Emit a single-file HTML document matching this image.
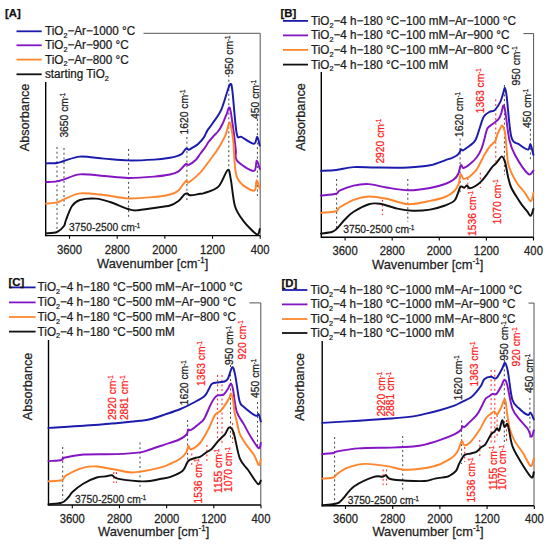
<!DOCTYPE html><html><head><meta charset="utf-8"><style>html,body{margin:0;padding:0;background:#fff;}svg{display:block;}</style></head><body>
<svg width="550" height="547" viewBox="0 0 550 547" font-family='"Liberation Sans", sans-serif'>
<style>text{stroke-width:0.25px;}</style>
<rect width="550" height="547" fill="#fff"/>
<line x1="143.5" y1="33.3" x2="260.2" y2="33.3" stroke="#555" stroke-width="1.0"/>
<line x1="260.2" y1="33.3" x2="260.2" y2="235.6" stroke="#555" stroke-width="1.0"/>
<line x1="45.7" y1="82" x2="45.7" y2="236.2" stroke="#000" stroke-width="1.4"/>
<line x1="45.7" y1="235.6" x2="260.2" y2="235.6" stroke="#000" stroke-width="1.4"/>
<line x1="69.5" y1="235.6" x2="69.5" y2="238.79999999999998" stroke="#000" stroke-width="1.1"/>
<text transform="translate(69.5,254.0) scale(0.9259,1)" font-size="12.20" fill="#222" stroke="#222" text-anchor="middle">3600</text>
<line x1="117.17500000000001" y1="235.6" x2="117.17500000000001" y2="238.79999999999998" stroke="#000" stroke-width="1.1"/>
<text transform="translate(117.2,254.0) scale(0.9259,1)" font-size="12.20" fill="#222" stroke="#222" text-anchor="middle">2800</text>
<line x1="164.85" y1="235.6" x2="164.85" y2="238.79999999999998" stroke="#000" stroke-width="1.1"/>
<text transform="translate(164.8,254.0) scale(0.9259,1)" font-size="12.20" fill="#222" stroke="#222" text-anchor="middle">2000</text>
<line x1="212.52499999999998" y1="235.6" x2="212.52499999999998" y2="238.79999999999998" stroke="#000" stroke-width="1.1"/>
<text transform="translate(212.5,254.0) scale(0.9259,1)" font-size="12.20" fill="#222" stroke="#222" text-anchor="middle">1200</text>
<line x1="260.2" y1="235.6" x2="260.2" y2="238.79999999999998" stroke="#000" stroke-width="1.1"/>
<text transform="translate(260.2,254.0) scale(0.9259,1)" font-size="12.20" fill="#222" stroke="#222" text-anchor="middle">400</text>
<text transform="translate(97.0,267.5) scale(0.9524,1)" font-size="13.55" fill="#222" stroke="#222">Wavenumber [cm<tspan font-size="0.62em" dy="-4.8">-1</tspan><tspan dy="4.8">]</tspan></text>
<text transform="translate(28.8,117.5) rotate(-90) scale(0.9524,1)" font-size="13.33" fill="#222" stroke="#222" text-anchor="middle">Absorbance</text>
<line x1="57" y1="147" x2="57" y2="230" stroke="#444" stroke-width="1.0" stroke-dasharray="2,2.7"/>
<line x1="64" y1="148" x2="64" y2="206" stroke="#444" stroke-width="1.0" stroke-dasharray="2,2.7"/>
<line x1="128.6" y1="149" x2="128.6" y2="219" stroke="#444" stroke-width="1.0" stroke-dasharray="2,2.7"/>
<line x1="186.9" y1="137" x2="186.9" y2="202" stroke="#444" stroke-width="1.0" stroke-dasharray="2,2.7"/>
<line x1="228.8" y1="75" x2="228.8" y2="169" stroke="#444" stroke-width="1.0" stroke-dasharray="2,2.7"/>
<line x1="257.4" y1="119" x2="257.4" y2="196" stroke="#444" stroke-width="1.0" stroke-dasharray="2,2.7"/>
<path d="M46.0,163.4 C47.8,163.3 54.1,163.4 57.0,163.0 C59.9,162.6 60.3,162.0 64.0,161.0 C67.7,160.0 73.6,157.0 80.0,156.6 C86.4,156.2 96.3,158.0 104.0,158.6 C111.7,159.2 120.0,160.2 128.0,160.4 C136.0,160.6 147.3,160.0 154.0,159.6 C160.7,159.2 166.1,158.4 170.0,157.8 C173.9,157.2 176.6,156.2 178.5,155.6 C180.4,155.0 180.8,154.9 182.0,153.8 C183.2,152.7 185.0,149.3 186.1,148.6 C187.2,147.9 187.7,149.9 188.8,149.7 C189.9,149.5 191.5,148.3 193.0,147.4 C194.5,146.5 196.7,145.4 198.4,143.8 C200.1,142.2 202.4,139.6 203.9,137.4 C205.4,135.2 206.1,132.4 207.6,130.1 C209.1,127.8 210.8,126.1 213.0,122.8 C215.2,119.5 218.9,115.0 221.3,109.6 C223.7,104.2 226.6,93.1 228.1,89.0 C229.6,84.9 230.0,83.7 230.7,84.0 C231.4,84.3 231.4,82.9 232.4,90.8 C233.4,98.7 235.2,126.1 236.7,133.5 C238.2,140.9 239.1,135.4 241.8,137.0 C244.5,138.6 251.3,143.8 253.8,143.8 C256.3,143.8 256.3,136.7 257.2,137.0 C258.1,137.3 259.3,144.1 259.7,145.5" fill="none" stroke="#1c1cac" stroke-width="1.95" stroke-linejoin="round" stroke-linecap="round"/>
<path d="M46.0,182.0 C47.8,181.9 54.1,181.8 57.0,181.4 C59.9,181.0 60.3,180.5 64.0,179.4 C67.7,178.3 73.6,174.9 80.0,174.4 C86.4,173.9 96.3,175.4 104.0,176.0 C111.7,176.6 120.0,177.9 128.0,178.0 C136.0,178.1 147.3,177.2 154.0,176.6 C160.7,176.0 166.1,175.3 170.0,174.5 C173.9,173.7 176.0,173.1 178.5,171.4 C181.0,169.7 184.2,165.1 185.8,164.1 C187.4,163.1 187.1,165.6 188.7,164.9 C190.3,164.2 193.8,161.8 195.7,160.0 C197.6,158.2 198.7,156.0 200.3,153.8 C201.9,151.6 204.4,148.4 205.7,146.5 C207.0,144.6 207.2,143.7 208.5,142.0 C209.8,140.3 212.5,137.3 214.0,135.6 C215.5,133.9 216.7,133.2 218.0,131.5 C219.3,129.8 220.7,127.7 222.0,125.0 C223.3,122.3 225.2,117.4 226.4,114.7 C227.6,112.0 228.7,105.7 229.8,107.9 C230.9,110.1 232.2,121.7 233.2,128.4 C234.2,135.1 235.2,144.8 235.8,150.0 C236.4,155.2 234.2,157.3 237.0,160.7 C239.8,164.1 250.4,171.0 253.6,171.0 C256.8,171.0 255.7,161.0 256.7,160.7 C257.7,160.4 259.3,167.7 259.8,169.0" fill="none" stroke="#8414c4" stroke-width="1.95" stroke-linejoin="round" stroke-linecap="round"/>
<path d="M46.0,203.6 C47.8,203.4 54.1,203.1 57.0,202.4 C59.9,201.7 60.3,200.8 64.0,199.4 C67.7,198.0 73.6,194.1 80.0,193.4 C86.4,192.7 96.3,194.2 104.0,195.0 C111.7,195.8 120.0,198.1 128.0,198.4 C136.0,198.7 147.3,197.6 154.0,197.0 C160.7,196.4 166.1,195.6 170.0,194.5 C173.9,193.4 176.0,192.6 178.5,190.4 C181.0,188.2 184.2,182.2 185.8,180.9 C187.4,179.6 186.4,183.7 188.7,182.4 C191.0,181.1 197.6,175.2 200.0,172.9 C202.4,170.6 202.4,170.1 204.0,168.0 C205.6,165.9 207.8,163.0 210.0,160.0 C212.2,157.0 215.4,153.0 217.9,149.0 C220.4,145.0 223.6,139.5 225.5,135.2 C227.4,130.9 228.6,121.6 229.8,122.4 C231.0,123.2 232.0,131.5 233.2,140.3 C234.4,149.1 233.7,169.2 237.0,177.3 C240.3,185.4 250.4,190.3 253.6,190.8 C256.8,191.3 255.7,180.7 256.7,180.4 C257.7,180.1 259.3,187.4 259.8,188.7" fill="none" stroke="#ff862e" stroke-width="1.95" stroke-linejoin="round" stroke-linecap="round"/>
<path d="M46.0,233.4 C47.8,233.2 54.1,233.2 57.0,232.0 C59.9,230.8 62.6,227.9 64.0,226.0 C65.4,224.1 64.7,223.2 66.0,220.0 C67.3,216.8 69.8,209.2 72.0,206.0 C74.2,202.8 76.2,201.2 80.0,200.0 C83.8,198.8 91.2,198.3 96.0,198.6 C100.8,198.9 104.9,200.3 110.0,202.0 C115.1,203.7 123.8,207.7 128.0,209.0 C132.2,210.3 131.8,210.6 136.0,210.4 C140.2,210.2 148.6,208.8 154.0,208.0 C159.4,207.2 166.1,206.6 170.0,205.5 C173.9,204.4 176.2,202.7 178.5,201.0 C180.8,199.3 182.9,195.8 184.3,194.6 C185.7,193.4 186.4,193.3 187.3,193.4 C188.2,193.5 188.2,195.2 190.2,195.3 C192.2,195.4 197.8,194.1 200.0,193.8 C202.2,193.5 201.1,194.4 204.0,193.2 C206.9,192.0 214.6,190.3 218.4,186.6 C222.2,182.9 225.7,171.2 227.7,170.0 C229.7,168.8 229.6,173.6 230.8,179.4 C232.0,185.2 233.0,199.7 235.0,206.3 C237.0,212.9 239.8,216.3 243.3,220.8 C246.8,225.3 254.1,233.0 256.7,234.3 C259.3,235.6 259.3,229.8 259.8,229.0" fill="none" stroke="#111111" stroke-width="1.95" stroke-linejoin="round" stroke-linecap="round"/>
<text transform="translate(69,231) scale(0.9259,1)" font-size="11.12" fill="#222" stroke="#222">3750-2500 <tspan>cm</tspan><tspan font-size="0.58em" dy="-0.45em">-1</tspan></text>
<text transform="translate(67.8,137.6) rotate(-90) scale(0.9259,1)" font-size="11.12" fill="#222" stroke="#222">3650 <tspan>cm</tspan><tspan font-size="0.58em" dy="-0.45em">-1</tspan></text>
<text transform="translate(187.7,134.4) rotate(-90) scale(0.9259,1)" font-size="11.12" fill="#222" stroke="#222">1620 <tspan>cm</tspan><tspan font-size="0.58em" dy="-0.45em">-1</tspan></text>
<text transform="translate(232.6,74.7) rotate(-90) scale(0.9259,1)" font-size="11.12" fill="#222" stroke="#222">950 <tspan>cm</tspan><tspan font-size="0.58em" dy="-0.45em">-1</tspan></text>
<text transform="translate(258.6,118.9) rotate(-90) scale(0.9259,1)" font-size="11.12" fill="#222" stroke="#222">450 <tspan>cm</tspan><tspan font-size="0.58em" dy="-0.45em">-1</tspan></text>
<line x1="16.5" y1="31.3" x2="41.7" y2="31.3" stroke="#1c1cac" stroke-width="1.8"/>
<text transform="translate(45.0,35.3) scale(0.9709,1)" font-size="12.05" fill="#1a1a1a" stroke="#1a1a1a">TiO<tspan font-size="0.62em" dy="2.6">2</tspan><tspan dy="-2.6">−Ar−1000 °C</tspan></text>
<line x1="16.5" y1="45.3" x2="41.7" y2="45.3" stroke="#8414c4" stroke-width="1.8"/>
<text transform="translate(45.0,49.3) scale(0.9709,1)" font-size="12.05" fill="#1a1a1a" stroke="#1a1a1a">TiO<tspan font-size="0.62em" dy="2.6">2</tspan><tspan dy="-2.6">−Ar−900 °C</tspan></text>
<line x1="16.5" y1="59.6" x2="41.7" y2="59.6" stroke="#ff862e" stroke-width="1.8"/>
<text transform="translate(45.0,63.6) scale(0.9709,1)" font-size="12.05" fill="#1a1a1a" stroke="#1a1a1a">TiO<tspan font-size="0.62em" dy="2.6">2</tspan><tspan dy="-2.6">−Ar−800 °C</tspan></text>
<line x1="16.5" y1="74.3" x2="41.7" y2="74.3" stroke="#111111" stroke-width="1.8"/>
<text transform="translate(45.0,78.3) scale(0.9709,1)" font-size="12.05" fill="#1a1a1a" stroke="#1a1a1a">starting TiO<tspan font-size="0.62em" dy="2.6">2</tspan><tspan dy="-2.6"></tspan></text>
<text x="5" y="17.0" font-size="11.4" font-weight="bold" fill="#111" stroke="#111">[A]</text>
<line x1="523.5" y1="33.6" x2="533.6" y2="33.6" stroke="#555" stroke-width="1.0"/>
<line x1="533.6" y1="33.6" x2="533.6" y2="237.3" stroke="#555" stroke-width="1.0"/>
<line x1="321.3" y1="72" x2="321.3" y2="237.9" stroke="#000" stroke-width="1.4"/>
<line x1="321.3" y1="237.3" x2="533.6" y2="237.3" stroke="#000" stroke-width="1.4"/>
<line x1="345.1" y1="237.3" x2="345.1" y2="240.5" stroke="#000" stroke-width="1.1"/>
<text transform="translate(345.1,255.0) scale(0.9259,1)" font-size="12.20" fill="#222" stroke="#222" text-anchor="middle">3600</text>
<line x1="392.20000000000005" y1="237.3" x2="392.20000000000005" y2="240.5" stroke="#000" stroke-width="1.1"/>
<text transform="translate(392.2,255.0) scale(0.9259,1)" font-size="12.20" fill="#222" stroke="#222" text-anchor="middle">2800</text>
<line x1="439.3" y1="237.3" x2="439.3" y2="240.5" stroke="#000" stroke-width="1.1"/>
<text transform="translate(439.3,255.0) scale(0.9259,1)" font-size="12.20" fill="#222" stroke="#222" text-anchor="middle">2000</text>
<line x1="486.4" y1="237.3" x2="486.4" y2="240.5" stroke="#000" stroke-width="1.1"/>
<text transform="translate(486.4,255.0) scale(0.9259,1)" font-size="12.20" fill="#222" stroke="#222" text-anchor="middle">1200</text>
<line x1="533.5" y1="237.3" x2="533.5" y2="240.5" stroke="#000" stroke-width="1.1"/>
<text transform="translate(533.5,255.0) scale(0.9259,1)" font-size="12.20" fill="#222" stroke="#222" text-anchor="middle">400</text>
<text transform="translate(372.0,268.6) scale(0.9524,1)" font-size="13.55" fill="#222" stroke="#222">Wavenumber [cm<tspan font-size="0.62em" dy="-4.8">-1</tspan><tspan dy="4.8">]</tspan></text>
<text transform="translate(305.0,117.0) rotate(-90) scale(0.9524,1)" font-size="13.33" fill="#222" stroke="#222" text-anchor="middle">Absorbance</text>
<line x1="336.6" y1="179" x2="336.6" y2="230.4" stroke="#444" stroke-width="1.0" stroke-dasharray="2,2.7"/>
<line x1="407.8" y1="179" x2="407.8" y2="222" stroke="#444" stroke-width="1.0" stroke-dasharray="2,2.7"/>
<line x1="382.4" y1="199.8" x2="382.4" y2="215" stroke="#ff2020" stroke-width="1.0" stroke-dasharray="2,2.7"/>
<line x1="460.1" y1="138.6" x2="460.1" y2="194.6" stroke="#444" stroke-width="1.0" stroke-dasharray="2,2.7"/>
<line x1="467.8" y1="178" x2="467.8" y2="190.2" stroke="#ff2020" stroke-width="1.0" stroke-dasharray="2,2.7"/>
<line x1="480.3" y1="172.7" x2="480.3" y2="188" stroke="#ff2020" stroke-width="1.0" stroke-dasharray="2,2.7"/>
<line x1="495.8" y1="99.3" x2="495.8" y2="161.7" stroke="#ff2020" stroke-width="1.0" stroke-dasharray="2,2.7"/>
<line x1="504.4" y1="85" x2="504.4" y2="175" stroke="#444" stroke-width="1.0" stroke-dasharray="2,2.7"/>
<line x1="530.4" y1="129" x2="530.4" y2="160.6" stroke="#444" stroke-width="1.0" stroke-dasharray="2,2.7"/>
<path d="M321.0,170.8 C323.4,170.7 331.0,170.6 336.2,170.0 C341.4,169.4 347.3,167.5 353.6,167.1 C359.9,166.7 366.8,167.4 375.5,167.5 C384.2,167.6 399.5,167.9 408.2,167.5 C416.9,167.1 424.1,166.5 430.0,165.3 C435.9,164.1 441.5,161.5 445.0,160.3 C448.5,159.1 449.7,158.9 451.6,158.1 C453.5,157.3 455.8,156.3 457.1,155.3 C458.4,154.3 459.2,153.1 459.8,152.1 C460.4,151.1 460.4,149.6 460.9,149.3 C461.4,149.0 462.1,150.7 463.1,150.4 C464.1,150.1 465.8,148.5 466.9,147.7 C468.0,146.9 468.6,146.7 470.0,145.5 C471.4,144.3 473.9,143.0 475.5,140.0 C477.1,137.0 478.9,130.3 480.2,126.5 C481.5,122.7 482.4,118.8 483.9,116.5 C485.4,114.2 487.7,112.9 489.4,111.9 C491.1,110.9 493.1,111.7 494.8,110.1 C496.5,108.5 499.0,104.5 500.3,101.9 C501.6,99.3 502.4,95.8 503.1,93.6 C503.8,91.4 504.3,87.5 504.9,88.0 C505.5,88.5 505.7,88.8 506.7,96.6 C507.7,104.4 509.4,129.2 511.3,136.8 C513.2,144.4 516.0,142.1 518.6,144.1 C521.2,146.1 525.9,149.5 527.8,149.6 C529.7,149.7 529.6,143.6 530.5,144.5 C531.4,145.4 532.9,153.3 533.4,155.0" fill="none" stroke="#1c1cac" stroke-width="1.95" stroke-linejoin="round" stroke-linecap="round"/>
<path d="M321.0,195.5 C323.4,195.2 333.2,194.5 336.2,193.7 C339.2,192.9 336.7,192.0 339.5,190.7 C342.3,189.4 348.9,186.7 353.6,185.6 C358.3,184.5 363.7,183.8 368.9,184.1 C374.1,184.4 380.1,186.5 386.4,187.5 C392.7,188.5 401.2,190.2 408.2,190.3 C415.2,190.4 424.1,189.0 430.0,188.0 C435.9,187.0 441.2,185.4 445.0,184.0 C448.8,182.6 451.7,181.1 453.8,179.5 C455.9,177.9 457.2,176.1 458.2,174.0 C459.2,171.9 459.8,167.7 460.3,166.3 C460.8,164.9 460.9,164.9 461.4,165.2 C461.9,165.5 462.2,168.2 463.6,168.0 C465.0,167.8 467.9,165.8 470.0,164.1 C472.1,162.4 474.8,159.8 476.6,157.5 C478.4,155.2 479.8,152.7 481.0,149.9 C482.2,147.1 483.2,143.5 484.2,140.0 C485.2,136.5 486.1,130.9 487.5,128.3 C488.9,125.7 491.2,125.3 493.0,123.8 C494.8,122.3 497.2,120.8 498.5,119.2 C499.8,117.6 500.4,115.9 501.2,113.7 C502.0,111.5 502.7,105.9 503.3,105.5 C503.9,105.1 504.2,105.5 505.2,111.0 C506.2,116.5 507.8,133.0 509.4,140.0 C511.0,147.0 512.0,149.6 515.0,155.0 C518.0,160.4 525.1,171.3 528.0,173.8 C530.9,176.3 532.5,171.0 533.4,170.5" fill="none" stroke="#8414c4" stroke-width="1.95" stroke-linejoin="round" stroke-linecap="round"/>
<path d="M321.0,212.9 C323.4,212.6 333.2,212.1 336.2,211.2 C339.2,210.3 336.7,209.3 339.5,207.5 C342.3,205.7 348.9,201.6 353.6,199.8 C358.3,198.0 363.7,196.7 368.9,196.5 C374.1,196.3 380.1,197.5 386.4,198.7 C392.7,199.9 401.2,203.8 408.2,204.2 C415.2,204.6 424.1,202.1 430.0,200.9 C435.9,199.7 441.2,198.5 445.0,197.0 C448.8,195.5 451.6,193.6 453.8,191.5 C456.0,189.4 457.7,186.4 458.7,183.8 C459.7,181.2 459.9,176.5 460.3,175.1 C460.7,173.7 460.9,174.5 461.4,175.1 C461.9,175.7 462.7,178.5 463.6,178.9 C464.5,179.3 465.9,178.2 466.9,177.8 C467.9,177.4 468.4,177.5 470.0,176.2 C471.6,174.9 474.3,172.9 476.6,169.6 C478.9,166.3 482.1,159.0 484.2,155.3 C486.3,151.6 487.9,148.9 489.7,146.6 C491.5,144.3 493.9,143.1 495.2,141.1 C496.5,139.1 496.8,135.8 497.6,133.8 C498.4,131.8 499.6,129.6 500.3,128.3 C501.0,127.0 501.4,125.0 502.1,125.6 C502.8,126.2 504.2,128.1 504.9,132.0 C505.6,135.9 506.2,144.9 506.7,150.0 C507.2,155.1 507.3,159.7 508.2,163.7 C509.1,167.7 510.8,171.4 512.3,174.7 C513.8,178.0 515.8,181.4 517.8,184.2 C519.8,187.0 522.6,189.7 524.7,192.5 C526.8,195.3 529.4,201.3 530.8,201.4 C532.2,201.5 533.0,194.3 533.4,193.0" fill="none" stroke="#ff862e" stroke-width="1.95" stroke-linejoin="round" stroke-linecap="round"/>
<path d="M321.0,233.6 C322.7,233.3 329.4,232.7 331.8,232.0 C334.2,231.3 334.1,231.3 336.2,229.3 C338.3,227.3 342.1,222.3 344.9,219.5 C347.7,216.7 349.8,214.2 353.6,211.8 C357.4,209.4 364.7,205.5 368.9,204.2 C373.1,202.9 375.3,203.1 379.8,203.8 C384.3,204.5 392.1,207.5 397.3,208.6 C402.5,209.7 407.4,210.5 412.6,210.7 C417.8,210.9 424.8,210.4 430.0,209.6 C435.2,208.8 441.0,207.0 445.0,205.5 C449.0,204.0 452.5,202.9 454.9,200.0 C457.3,197.1 458.8,189.1 460.3,187.1 C461.8,185.1 463.1,188.0 464.2,187.7 C465.3,187.4 466.0,185.4 466.9,185.5 C467.8,185.6 468.3,188.1 469.7,188.2 C471.1,188.3 473.7,187.1 475.5,186.0 C477.3,184.9 479.3,183.3 481.0,181.6 C482.7,179.9 484.7,177.4 486.4,175.1 C488.1,172.8 490.3,169.3 491.9,167.4 C493.5,165.5 495.1,164.4 496.3,163.0 C497.5,161.6 498.7,159.7 499.6,158.6 C500.5,157.5 501.1,156.3 501.8,156.4 C502.5,156.5 503.4,158.0 504.0,159.2 C504.6,160.4 504.8,160.8 505.5,163.7 C506.2,166.6 507.3,173.7 508.2,177.4 C509.1,181.1 509.7,183.9 511.0,187.0 C512.3,190.1 514.7,193.8 516.4,196.6 C518.1,199.4 520.1,202.4 521.9,204.8 C523.7,207.2 526.0,209.8 527.4,211.6 C528.8,213.4 529.8,216.2 530.8,215.8 C531.8,215.4 533.0,210.0 533.4,208.9" fill="none" stroke="#111111" stroke-width="1.95" stroke-linejoin="round" stroke-linecap="round"/>
<text transform="translate(343.2,233) scale(0.9259,1)" font-size="11.12" fill="#222" stroke="#222">3750-2500 <tspan>cm</tspan><tspan font-size="0.58em" dy="-0.45em">-1</tspan></text>
<text transform="translate(383.8,163.6) rotate(-90) scale(0.9259,1)" font-size="11.12" fill="#ff2020" stroke="#ff2020">2920 <tspan>cm</tspan><tspan font-size="0.58em" dy="-0.45em">-1</tspan></text>
<text transform="translate(462.5,136.9) rotate(-90) scale(0.9259,1)" font-size="11.12" fill="#222" stroke="#222">1620 <tspan>cm</tspan><tspan font-size="0.58em" dy="-0.45em">-1</tspan></text>
<text transform="translate(483.5,113.2) rotate(-90) scale(0.9259,1)" font-size="11.12" fill="#ff2020" stroke="#ff2020">1363 <tspan>cm</tspan><tspan font-size="0.58em" dy="-0.45em">-1</tspan></text>
<text transform="translate(476.0,235.9) rotate(-90) scale(0.9259,1)" font-size="11.12" fill="#ff2020" stroke="#ff2020">1536 <tspan>cm</tspan><tspan font-size="0.58em" dy="-0.45em">-1</tspan></text>
<text transform="translate(500.5,224.2) rotate(-90) scale(0.9259,1)" font-size="11.12" fill="#ff2020" stroke="#ff2020">1070 <tspan>cm</tspan><tspan font-size="0.58em" dy="-0.45em">-1</tspan></text>
<text transform="translate(531.0,127.9) rotate(-90) scale(0.9259,1)" font-size="11.12" fill="#222" stroke="#222">450 <tspan>cm</tspan><tspan font-size="0.58em" dy="-0.45em">-1</tspan></text>
<line x1="283" y1="20.9" x2="308" y2="20.9" stroke="#1c1cac" stroke-width="1.8"/>
<text transform="translate(311.0,24.9) scale(0.9709,1)" font-size="12.05" fill="#1a1a1a" stroke="#1a1a1a">TiO<tspan font-size="0.62em" dy="2.6">2</tspan><tspan dy="-2.6">−4 h−180 °C−100 mM−Ar−1000 °C</tspan></text>
<line x1="283" y1="35.4" x2="308" y2="35.4" stroke="#8414c4" stroke-width="1.8"/>
<text transform="translate(311.0,39.4) scale(0.9709,1)" font-size="12.05" fill="#1a1a1a" stroke="#1a1a1a">TiO<tspan font-size="0.62em" dy="2.6">2</tspan><tspan dy="-2.6">−4 h−180 °C−100 mM−Ar−900 °C</tspan></text>
<line x1="283" y1="49.9" x2="308" y2="49.9" stroke="#ff862e" stroke-width="1.8"/>
<text transform="translate(311.0,53.9) scale(0.9709,1)" font-size="12.05" fill="#1a1a1a" stroke="#1a1a1a">TiO<tspan font-size="0.62em" dy="2.6">2</tspan><tspan dy="-2.6">−4 h−180 °C−100 mM−Ar−800 °C</tspan></text>
<line x1="283" y1="64.6" x2="308" y2="64.6" stroke="#111111" stroke-width="1.8"/>
<text transform="translate(311.0,68.6) scale(0.9709,1)" font-size="12.05" fill="#1a1a1a" stroke="#1a1a1a">TiO<tspan font-size="0.62em" dy="2.6">2</tspan><tspan dy="-2.6">−4 h−180 °C−100 mM</tspan></text>
<text x="280.4" y="17.2" font-size="11.4" font-weight="bold" fill="#111" stroke="#111">[B]</text>
<text transform="translate(520.0,85.4) rotate(-90) scale(0.9259,1)" font-size="11.12" fill="#222" stroke="#222">950 <tspan>cm</tspan><tspan font-size="0.58em" dy="-0.45em">-1</tspan></text>
<line x1="249.5" y1="302.9" x2="260.8" y2="302.9" stroke="#555" stroke-width="1.0"/>
<line x1="260.8" y1="302.9" x2="260.8" y2="505.0" stroke="#555" stroke-width="1.0"/>
<line x1="48.5" y1="340" x2="48.5" y2="505.6" stroke="#000" stroke-width="1.4"/>
<line x1="48.5" y1="505.0" x2="260.8" y2="505.0" stroke="#000" stroke-width="1.4"/>
<line x1="72.30000000000001" y1="505.0" x2="72.30000000000001" y2="508.2" stroke="#000" stroke-width="1.1"/>
<text transform="translate(72.3,522.5) scale(0.9259,1)" font-size="12.20" fill="#222" stroke="#222" text-anchor="middle">3600</text>
<line x1="119.47500000000002" y1="505.0" x2="119.47500000000002" y2="508.2" stroke="#000" stroke-width="1.1"/>
<text transform="translate(119.5,522.5) scale(0.9259,1)" font-size="12.20" fill="#222" stroke="#222" text-anchor="middle">2800</text>
<line x1="166.65" y1="505.0" x2="166.65" y2="508.2" stroke="#000" stroke-width="1.1"/>
<text transform="translate(166.7,522.5) scale(0.9259,1)" font-size="12.20" fill="#222" stroke="#222" text-anchor="middle">2000</text>
<line x1="213.825" y1="505.0" x2="213.825" y2="508.2" stroke="#000" stroke-width="1.1"/>
<text transform="translate(213.8,522.5) scale(0.9259,1)" font-size="12.20" fill="#222" stroke="#222" text-anchor="middle">1200</text>
<line x1="261.0" y1="505.0" x2="261.0" y2="508.2" stroke="#000" stroke-width="1.1"/>
<text transform="translate(261.0,522.5) scale(0.9259,1)" font-size="12.20" fill="#222" stroke="#222" text-anchor="middle">400</text>
<text transform="translate(98.0,536.0) scale(0.9524,1)" font-size="13.55" fill="#222" stroke="#222">Wavenumber [cm<tspan font-size="0.62em" dy="-4.8">-1</tspan><tspan dy="4.8">]</tspan></text>
<text transform="translate(31.5,386.5) rotate(-90) scale(0.9524,1)" font-size="13.33" fill="#222" stroke="#222" text-anchor="middle">Absorbance</text>
<line x1="62.7" y1="447" x2="62.7" y2="499.5" stroke="#444" stroke-width="1.0" stroke-dasharray="2,2.7"/>
<line x1="140" y1="442.5" x2="140" y2="489" stroke="#444" stroke-width="1.0" stroke-dasharray="2,2.7"/>
<line x1="113.8" y1="472" x2="113.8" y2="483" stroke="#ff2020" stroke-width="1.0" stroke-dasharray="2,2.7"/>
<line x1="116.4" y1="472" x2="116.4" y2="483" stroke="#ff2020" stroke-width="1.0" stroke-dasharray="2,2.7"/>
<line x1="187.6" y1="420" x2="187.6" y2="462" stroke="#444" stroke-width="1.0" stroke-dasharray="2,2.7"/>
<line x1="191.8" y1="453.5" x2="191.8" y2="466" stroke="#ff2020" stroke-width="1.0" stroke-dasharray="2,2.7"/>
<line x1="206.9" y1="445" x2="206.9" y2="461" stroke="#ff2020" stroke-width="1.0" stroke-dasharray="2,2.7"/>
<line x1="217.6" y1="375" x2="217.6" y2="439" stroke="#ff2020" stroke-width="1.0" stroke-dasharray="2,2.7"/>
<line x1="222" y1="375" x2="222" y2="445" stroke="#ff2020" stroke-width="1.0" stroke-dasharray="2,2.7"/>
<line x1="230.5" y1="365" x2="230.5" y2="440" stroke="#444" stroke-width="1.0" stroke-dasharray="2,2.7"/>
<line x1="232.6" y1="423" x2="232.6" y2="443" stroke="#ff2020" stroke-width="1.0" stroke-dasharray="2,2.7"/>
<line x1="257.5" y1="402" x2="257.5" y2="446" stroke="#444" stroke-width="1.0" stroke-dasharray="2,2.7"/>
<path d="M48.5,427.9 C54.1,427.5 72.7,426.5 83.6,425.7 C94.5,424.9 107.3,424.0 116.4,423.2 C125.5,422.4 135.0,421.4 140.4,420.8 C145.8,420.2 146.1,420.3 150.0,419.3 C153.9,418.3 159.9,416.2 164.6,414.6 C169.3,413.0 174.6,411.4 179.3,409.5 C184.0,407.6 189.9,404.7 193.9,402.5 C197.9,400.3 202.2,398.2 204.6,396.0 C207.0,393.8 207.8,390.8 209.0,388.8 C210.2,386.8 210.4,384.8 212.0,383.7 C213.6,382.6 217.2,382.6 219.2,382.2 C221.2,381.8 223.0,382.1 224.4,381.5 C225.8,380.9 226.8,380.8 228.0,378.5 C229.2,376.2 231.1,367.9 232.2,367.3 C233.3,366.7 233.9,369.2 235.1,374.6 C236.3,380.0 238.1,395.8 239.5,401.0 C240.9,406.2 241.3,404.6 243.9,406.9 C246.5,409.2 253.2,414.4 255.6,415.6 C258.0,416.8 257.8,413.3 258.6,414.2 C259.4,415.1 260.4,420.3 260.8,421.5" fill="none" stroke="#1c1cac" stroke-width="1.95" stroke-linejoin="round" stroke-linecap="round"/>
<path d="M48.5,461.1 C50.6,460.9 59.3,460.5 61.8,460.0 C64.3,459.5 60.5,458.7 64.0,457.8 C67.5,456.9 75.2,455.1 83.6,454.5 C92.0,453.9 107.3,454.4 116.4,454.1 C125.5,453.8 135.0,453.1 140.4,452.4 C145.8,451.7 146.1,450.7 150.0,449.5 C153.9,448.3 159.9,446.2 164.6,444.6 C169.3,443.0 175.8,441.1 179.3,439.5 C182.8,437.9 185.2,436.1 186.6,434.5 C188.0,432.9 187.6,430.2 188.3,429.5 C189.0,428.8 188.9,431.2 191.0,430.0 C193.1,428.8 199.0,423.9 201.2,422.0 C203.4,420.1 203.1,420.7 204.6,418.0 C206.1,415.3 208.9,408.2 210.5,404.9 C212.1,401.6 213.7,399.0 214.9,397.5 C216.1,396.0 216.4,395.9 217.8,395.4 C219.2,394.9 222.0,395.7 223.6,394.6 C225.2,393.5 226.8,390.6 228.0,388.8 C229.2,387.0 230.1,383.4 230.9,383.5 C231.7,383.6 232.1,384.9 233.0,389.3 C233.9,393.7 234.9,405.6 236.6,411.2 C238.3,416.8 241.6,420.2 243.9,424.4 C246.2,428.6 248.8,433.8 251.2,437.6 C253.6,441.4 257.2,447.3 258.7,448.2 C260.2,449.1 260.5,443.8 260.8,443.0" fill="none" stroke="#8414c4" stroke-width="1.95" stroke-linejoin="round" stroke-linecap="round"/>
<path d="M48.5,481.2 C50.6,481.1 59.0,481.2 61.8,480.3 C64.6,479.4 62.7,477.3 66.2,475.3 C69.7,473.3 78.7,469.0 83.6,467.6 C88.5,466.2 91.5,466.1 96.7,466.5 C101.9,466.9 110.5,468.9 116.4,469.8 C122.3,470.7 126.8,472.8 133.8,472.4 C140.8,472.0 154.1,469.0 160.0,467.6 C165.9,466.2 167.8,464.8 170.9,463.5 C174.0,462.2 177.0,461.0 179.4,459.3 C181.8,457.6 184.5,454.8 186.0,452.7 C187.5,450.6 187.7,446.6 188.5,446.1 C189.3,445.6 189.2,449.9 191.0,449.4 C192.8,448.9 197.1,446.4 200.0,443.0 C202.9,439.6 206.6,432.5 209.0,428.0 C211.4,423.5 213.0,417.9 214.9,415.1 C216.8,412.3 219.1,412.3 220.7,410.7 C222.3,409.1 223.7,407.0 225.1,404.9 C226.5,402.8 228.6,399.3 229.5,397.5 C230.4,395.7 230.3,393.2 230.9,393.5 C231.5,393.8 232.4,396.5 233.0,399.5 C233.6,402.5 233.9,408.6 234.5,412.0 C235.1,415.4 235.9,417.6 236.7,421.0 C237.5,424.4 238.2,429.8 239.6,433.4 C241.0,437.0 243.2,440.1 245.5,443.6 C247.8,447.1 252.1,451.9 254.2,455.3 C256.3,458.7 257.6,464.3 258.7,465.0 C259.8,465.7 260.5,460.5 260.8,459.7" fill="none" stroke="#ff862e" stroke-width="1.95" stroke-linejoin="round" stroke-linecap="round"/>
<path d="M48.5,504.3 C50.6,504.0 58.6,503.8 61.8,502.7 C65.0,501.6 66.7,499.0 68.4,497.3 C70.1,495.6 70.3,494.0 72.7,491.8 C75.1,489.6 79.8,485.8 83.6,483.5 C87.4,481.2 93.2,478.6 96.7,477.5 C100.2,476.4 103.1,476.8 105.5,476.4 C107.9,476.0 110.1,474.9 112.0,475.3 C113.9,475.7 113.3,477.7 117.5,478.6 C121.7,479.5 133.0,480.8 138.2,481.2 C143.4,481.6 146.5,481.4 150.0,481.0 C153.5,480.6 156.6,479.7 160.0,479.0 C163.4,478.3 167.6,477.9 171.2,476.6 C174.8,475.3 180.2,472.9 182.7,470.8 C185.2,468.7 185.7,465.1 186.8,463.4 C187.9,461.7 187.8,461.0 189.3,460.1 C190.8,459.2 194.2,458.2 195.9,457.7 C197.6,457.2 198.4,457.6 200.0,456.8 C201.6,456.0 204.2,453.8 206.1,452.5 C208.0,451.2 210.0,450.5 211.9,448.7 C213.8,446.9 216.2,443.3 217.8,441.4 C219.4,439.5 221.0,438.2 222.2,437.0 C223.4,435.8 224.0,435.6 225.1,434.1 C226.2,432.6 227.8,427.8 229.2,427.5 C230.6,427.2 231.9,427.5 233.6,432.5 C235.3,437.5 237.5,452.7 239.9,458.7 C242.3,464.7 245.5,466.2 248.3,470.2 C251.1,474.2 255.7,482.1 257.7,483.8 C259.7,485.5 260.3,481.1 260.8,480.6" fill="none" stroke="#111111" stroke-width="1.95" stroke-linejoin="round" stroke-linecap="round"/>
<text transform="translate(75,502.7) scale(0.9259,1)" font-size="11.12" fill="#222" stroke="#222">3750-2500 <tspan>cm</tspan><tspan font-size="0.58em" dy="-0.45em">-1</tspan></text>
<text transform="translate(116.0,420.1) rotate(-90) scale(0.9259,1)" font-size="11.12" fill="#ff2020" stroke="#ff2020">2920 <tspan>cm</tspan><tspan font-size="0.58em" dy="-0.45em">-1</tspan></text>
<text transform="translate(128.0,420.1) rotate(-90) scale(0.9259,1)" font-size="11.12" fill="#ff2020" stroke="#ff2020">2881 <tspan>cm</tspan><tspan font-size="0.58em" dy="-0.45em">-1</tspan></text>
<text transform="translate(188.4,405.3) rotate(-90) scale(0.9259,1)" font-size="11.12" fill="#222" stroke="#222">1620 <tspan>cm</tspan><tspan font-size="0.58em" dy="-0.45em">-1</tspan></text>
<text transform="translate(205.0,385.9) rotate(-90) scale(0.9259,1)" font-size="11.12" fill="#ff2020" stroke="#ff2020">1363 <tspan>cm</tspan><tspan font-size="0.58em" dy="-0.45em">-1</tspan></text>
<text transform="translate(201.7,503.5) rotate(-90) scale(0.9259,1)" font-size="11.12" fill="#ff2020" stroke="#ff2020">1536 <tspan>cm</tspan><tspan font-size="0.58em" dy="-0.45em">-1</tspan></text>
<text transform="translate(222.0,492.9) rotate(-90) scale(0.9259,1)" font-size="11.12" fill="#ff2020" stroke="#ff2020">1155 <tspan>cm</tspan><tspan font-size="0.58em" dy="-0.45em">-1</tspan></text>
<text transform="translate(232.4,491.9) rotate(-90) scale(0.9259,1)" font-size="11.12" fill="#ff2020" stroke="#ff2020">1070 <tspan>cm</tspan><tspan font-size="0.58em" dy="-0.45em">-1</tspan></text>
<text transform="translate(259.0,397.9) rotate(-90) scale(0.9259,1)" font-size="11.12" fill="#222" stroke="#222">450 <tspan>cm</tspan><tspan font-size="0.58em" dy="-0.45em">-1</tspan></text>
<line x1="9" y1="287.4" x2="35.6" y2="287.4" stroke="#1c1cac" stroke-width="1.8"/>
<text transform="translate(37.6,291.4) scale(0.9709,1)" font-size="12.05" fill="#1a1a1a" stroke="#1a1a1a">TiO<tspan font-size="0.62em" dy="2.6">2</tspan><tspan dy="-2.6">−4 h−180 °C−500 mM−Ar−1000 °C</tspan></text>
<line x1="9" y1="302.4" x2="35.6" y2="302.4" stroke="#8414c4" stroke-width="1.8"/>
<text transform="translate(37.6,306.4) scale(0.9709,1)" font-size="12.05" fill="#1a1a1a" stroke="#1a1a1a">TiO<tspan font-size="0.62em" dy="2.6">2</tspan><tspan dy="-2.6">−4 h−180 °C−500 mM−Ar−900 °C</tspan></text>
<line x1="9" y1="317.0" x2="35.6" y2="317.0" stroke="#ff862e" stroke-width="1.8"/>
<text transform="translate(37.6,321.0) scale(0.9709,1)" font-size="12.05" fill="#1a1a1a" stroke="#1a1a1a">TiO<tspan font-size="0.62em" dy="2.6">2</tspan><tspan dy="-2.6">−4 h−180 °C−500 mM−Ar−800 °C</tspan></text>
<line x1="9" y1="331.6" x2="35.6" y2="331.6" stroke="#111111" stroke-width="1.8"/>
<text transform="translate(37.6,335.6) scale(0.9709,1)" font-size="12.05" fill="#1a1a1a" stroke="#1a1a1a">TiO<tspan font-size="0.62em" dy="2.6">2</tspan><tspan dy="-2.6">−4 h−180 °C−500 mM</tspan></text>
<text x="8.4" y="285.5" font-size="11.4" font-weight="bold" fill="#111" stroke="#111">[C]</text>
<text transform="translate(233.4,364.9) rotate(-90) scale(0.9259,1)" font-size="11.12" fill="#222" stroke="#222">950 <tspan>cm</tspan><tspan font-size="0.58em" dy="-0.45em">-1</tspan></text>
<text transform="translate(246.2,359.5) rotate(-90) scale(0.9259,1)" font-size="11.12" fill="#ff2020" stroke="#ff2020">920 <tspan>cm</tspan><tspan font-size="0.58em" dy="-0.45em">-1</tspan></text>
<line x1="528.5" y1="303.1" x2="534.0" y2="303.1" stroke="#555" stroke-width="1.0"/>
<line x1="534.0" y1="303.1" x2="534.0" y2="505.8" stroke="#555" stroke-width="1.0"/>
<line x1="322.2" y1="341" x2="322.2" y2="506.40000000000003" stroke="#000" stroke-width="1.4"/>
<line x1="322.2" y1="505.8" x2="534.0" y2="505.8" stroke="#000" stroke-width="1.4"/>
<line x1="345.5" y1="505.8" x2="345.5" y2="509.0" stroke="#000" stroke-width="1.1"/>
<text transform="translate(345.5,522.5) scale(0.9259,1)" font-size="12.20" fill="#222" stroke="#222" text-anchor="middle">3600</text>
<line x1="392.7" y1="505.8" x2="392.7" y2="509.0" stroke="#000" stroke-width="1.1"/>
<text transform="translate(392.7,522.5) scale(0.9259,1)" font-size="12.20" fill="#222" stroke="#222" text-anchor="middle">2800</text>
<line x1="439.9" y1="505.8" x2="439.9" y2="509.0" stroke="#000" stroke-width="1.1"/>
<text transform="translate(439.9,522.5) scale(0.9259,1)" font-size="12.20" fill="#222" stroke="#222" text-anchor="middle">2000</text>
<line x1="487.09999999999997" y1="505.8" x2="487.09999999999997" y2="509.0" stroke="#000" stroke-width="1.1"/>
<text transform="translate(487.1,522.5) scale(0.9259,1)" font-size="12.20" fill="#222" stroke="#222" text-anchor="middle">1200</text>
<line x1="534.3" y1="505.8" x2="534.3" y2="509.0" stroke="#000" stroke-width="1.1"/>
<text transform="translate(534.3,522.5) scale(0.9259,1)" font-size="12.20" fill="#222" stroke="#222" text-anchor="middle">400</text>
<text transform="translate(372.4,536.0) scale(0.9524,1)" font-size="13.55" fill="#222" stroke="#222">Wavenumber [cm<tspan font-size="0.62em" dy="-4.8">-1</tspan><tspan dy="4.8">]</tspan></text>
<text transform="translate(304.0,386.8) rotate(-90) scale(0.9524,1)" font-size="13.33" fill="#222" stroke="#222" text-anchor="middle">Absorbance</text>
<line x1="334.6" y1="437" x2="334.6" y2="504.7" stroke="#444" stroke-width="1.0" stroke-dasharray="2,2.7"/>
<line x1="402.7" y1="436" x2="402.7" y2="491.6" stroke="#444" stroke-width="1.0" stroke-dasharray="2,2.7"/>
<line x1="383.1" y1="469.4" x2="383.1" y2="485.1" stroke="#ff2020" stroke-width="1.0" stroke-dasharray="2,2.7"/>
<line x1="386.6" y1="469.4" x2="386.6" y2="485.1" stroke="#ff2020" stroke-width="1.0" stroke-dasharray="2,2.7"/>
<line x1="461.6" y1="420.5" x2="461.6" y2="464" stroke="#444" stroke-width="1.0" stroke-dasharray="2,2.7"/>
<line x1="464.7" y1="447" x2="464.7" y2="462" stroke="#ff2020" stroke-width="1.0" stroke-dasharray="2,2.7"/>
<line x1="479.8" y1="440" x2="479.8" y2="459" stroke="#ff2020" stroke-width="1.0" stroke-dasharray="2,2.7"/>
<line x1="491.1" y1="370" x2="491.1" y2="445" stroke="#ff2020" stroke-width="1.0" stroke-dasharray="2,2.7"/>
<line x1="494.8" y1="370" x2="494.8" y2="443" stroke="#ff2020" stroke-width="1.0" stroke-dasharray="2,2.7"/>
<line x1="504.3" y1="360" x2="504.3" y2="445" stroke="#444" stroke-width="1.0" stroke-dasharray="2,2.7"/>
<line x1="506.5" y1="420" x2="506.5" y2="441" stroke="#ff2020" stroke-width="1.0" stroke-dasharray="2,2.7"/>
<line x1="529.9" y1="398" x2="529.9" y2="440" stroke="#444" stroke-width="1.0" stroke-dasharray="2,2.7"/>
<line x1="497.1" y1="415" x2="497.1" y2="438" stroke="#ff2020" stroke-width="1.0" stroke-dasharray="2,2.7"/>
<path d="M322.2,422.9 C328.0,422.5 347.5,421.4 358.6,420.7 C369.7,420.0 382.7,419.2 391.4,418.5 C400.1,417.8 407.8,417.1 413.2,416.4 C418.6,415.7 420.8,414.9 425.0,413.9 C429.2,412.9 434.9,411.5 439.6,410.2 C444.3,408.9 450.7,406.9 454.3,405.6 C457.9,404.3 459.4,403.2 462.0,401.9 C464.6,400.6 468.5,399.1 470.8,397.5 C473.1,395.9 475.0,393.6 476.6,391.7 C478.2,389.8 479.7,387.8 481.0,385.8 C482.3,383.8 482.9,380.4 484.5,379.0 C486.1,377.6 489.2,376.9 491.1,376.8 C493.0,376.7 494.4,379.6 496.2,378.3 C498.0,377.0 500.7,371.3 502.1,368.8 C503.5,366.3 504.1,362.4 505.0,362.9 C505.9,363.4 506.7,365.8 507.9,371.7 C509.1,377.6 510.5,393.6 512.3,399.5 C514.1,405.4 516.4,405.8 518.9,408.3 C521.4,410.8 525.8,414.2 527.7,414.9 C529.6,415.6 529.6,412.0 530.6,412.7 C531.6,413.4 533.3,418.2 533.8,419.3" fill="none" stroke="#1c1cac" stroke-width="1.95" stroke-linejoin="round" stroke-linecap="round"/>
<path d="M322.2,454.1 C324.0,453.9 331.2,453.4 333.5,453.0 C335.8,452.6 332.8,452.2 336.8,451.5 C340.8,450.8 349.9,449.0 358.6,448.4 C367.3,447.8 382.7,447.9 391.4,447.6 C400.1,447.3 407.8,447.0 413.2,446.5 C418.6,446.0 420.8,445.6 425.0,444.6 C429.2,443.6 434.9,441.8 439.6,440.2 C444.3,438.6 450.9,436.0 454.3,434.4 C457.7,432.8 459.6,431.3 460.9,430.0 C462.2,428.7 461.7,426.8 462.3,426.3 C462.9,425.8 463.4,427.6 464.5,427.0 C465.6,426.4 467.4,424.3 469.3,422.4 C471.2,420.5 474.7,417.4 476.6,415.1 C478.5,412.8 479.6,410.4 481.0,407.8 C482.4,405.2 484.2,400.8 485.4,399.0 C486.6,397.2 487.1,397.6 488.3,396.8 C489.5,396.0 491.4,394.4 492.7,393.9 C494.0,393.4 495.1,395.0 496.4,393.9 C497.7,392.8 499.4,389.5 500.7,387.3 C502.0,385.1 503.3,380.4 504.3,380.0 C505.3,379.6 505.9,380.4 507.2,384.9 C508.5,389.4 510.4,402.9 512.3,408.3 C514.2,413.7 516.4,415.3 518.9,418.6 C521.4,421.9 525.7,425.9 527.7,428.8 C529.7,431.7 530.4,436.7 531.4,436.9 C532.4,437.1 533.4,431.4 533.8,430.3" fill="none" stroke="#8414c4" stroke-width="1.95" stroke-linejoin="round" stroke-linecap="round"/>
<path d="M322.2,478.6 C324.0,478.4 331.2,478.2 333.5,477.5 C335.8,476.8 334.5,475.8 336.8,474.2 C339.1,472.6 343.2,469.2 347.7,467.6 C352.2,466.0 358.9,464.1 365.2,463.9 C371.5,463.7 380.4,465.2 387.0,466.1 C393.6,467.0 398.9,469.8 406.6,469.8 C414.3,469.8 428.2,467.7 435.0,466.0 C441.8,464.3 445.9,461.4 449.4,459.3 C452.9,457.2 454.8,455.5 456.8,452.7 C458.8,449.9 460.5,442.7 461.7,441.5 C462.9,440.3 462.9,445.1 464.2,445.3 C465.5,445.5 467.6,444.9 470.0,442.5 C472.4,440.1 476.9,433.9 479.5,430.0 C482.1,426.1 484.2,420.6 486.1,418.0 C488.0,415.4 489.9,414.7 491.2,413.6 C492.5,412.5 493.3,411.3 494.2,411.4 C495.1,411.5 496.1,414.9 497.1,414.4 C498.1,413.9 499.4,410.9 500.7,408.5 C502.0,406.1 504.0,398.6 505.0,399.5 C506.0,400.4 506.4,409.2 507.2,414.0 C508.0,418.8 508.7,425.3 509.9,429.6 C511.1,433.9 512.7,437.3 514.8,441.1 C516.9,444.9 520.8,449.5 523.3,453.5 C525.8,457.5 528.9,465.2 530.6,466.0 C532.3,466.8 533.3,459.9 533.8,458.7" fill="none" stroke="#ff862e" stroke-width="1.95" stroke-linejoin="round" stroke-linecap="round"/>
<path d="M322.2,505.2 C323.8,505.1 329.8,504.7 332.5,504.3 C335.2,503.9 337.3,503.6 339.0,502.6 C340.7,501.6 341.0,500.8 343.4,498.2 C345.8,495.6 349.4,489.6 354.3,486.2 C359.2,482.8 369.4,478.3 373.9,476.8 C378.4,475.3 380.7,477.0 382.6,476.8 C384.5,476.6 384.7,474.9 385.9,475.3 C387.1,475.7 387.0,478.1 390.3,479.0 C393.6,479.9 401.0,480.4 406.6,480.7 C412.2,481.0 420.5,481.3 425.0,481.0 C429.5,480.7 431.7,479.2 435.0,478.6 C438.3,478.0 443.6,477.4 445.9,477.0 C448.2,476.6 447.8,476.8 449.4,475.8 C451.0,474.8 454.4,472.8 456.0,470.8 C457.6,468.8 458.0,465.9 459.3,463.4 C460.6,460.9 462.4,456.8 464.2,455.2 C466.0,453.6 468.8,454.1 470.8,453.5 C472.8,452.9 475.0,452.6 476.6,451.6 C478.2,450.6 479.6,448.5 481.0,447.3 C482.4,446.1 483.8,446.4 485.4,444.3 C487.0,442.2 489.8,436.1 491.2,434.1 C492.6,432.1 493.3,432.8 494.2,431.9 C495.1,431.0 496.3,428.4 497.1,428.2 C497.9,428.0 498.5,431.7 499.3,430.4 C500.1,429.1 501.4,420.8 502.2,420.2 C503.0,419.6 503.6,426.2 504.4,426.8 C505.2,427.4 506.6,423.4 507.3,423.9 C508.0,424.4 508.1,426.3 509.0,430.0 C509.9,433.7 510.5,441.4 512.8,447.2 C515.1,453.0 520.3,461.2 523.3,466.0 C526.3,470.8 529.9,476.5 531.6,477.5 C533.3,478.5 533.4,473.1 533.8,472.3" fill="none" stroke="#111111" stroke-width="1.95" stroke-linejoin="round" stroke-linecap="round"/>
<text transform="translate(347.7,503.6) scale(0.9259,1)" font-size="11.12" fill="#222" stroke="#222">3750-2500 <tspan>cm</tspan><tspan font-size="0.58em" dy="-0.45em">-1</tspan></text>
<text transform="translate(384.5,416.6) rotate(-90) scale(0.9259,1)" font-size="11.12" fill="#ff2020" stroke="#ff2020">2920 <tspan>cm</tspan><tspan font-size="0.58em" dy="-0.45em">-1</tspan></text>
<text transform="translate(394.3,416.6) rotate(-90) scale(0.9259,1)" font-size="11.12" fill="#ff2020" stroke="#ff2020">2881 <tspan>cm</tspan><tspan font-size="0.58em" dy="-0.45em">-1</tspan></text>
<text transform="translate(462.0,400.2) rotate(-90) scale(0.9259,1)" font-size="11.12" fill="#222" stroke="#222">1620 <tspan>cm</tspan><tspan font-size="0.58em" dy="-0.45em">-1</tspan></text>
<text transform="translate(478.2,386.4) rotate(-90) scale(0.9259,1)" font-size="11.12" fill="#ff2020" stroke="#ff2020">1363 <tspan>cm</tspan><tspan font-size="0.58em" dy="-0.45em">-1</tspan></text>
<text transform="translate(475.4,502.4) rotate(-90) scale(0.9259,1)" font-size="11.12" fill="#ff2020" stroke="#ff2020">1536 <tspan>cm</tspan><tspan font-size="0.58em" dy="-0.45em">-1</tspan></text>
<text transform="translate(497.0,489.9) rotate(-90) scale(0.9259,1)" font-size="11.12" fill="#ff2020" stroke="#ff2020">1155 <tspan>cm</tspan><tspan font-size="0.58em" dy="-0.45em">-1</tspan></text>
<text transform="translate(506.4,489.9) rotate(-90) scale(0.9259,1)" font-size="11.12" fill="#ff2020" stroke="#ff2020">1070 <tspan>cm</tspan><tspan font-size="0.58em" dy="-0.45em">-1</tspan></text>
<text transform="translate(532.5,392.9) rotate(-90) scale(0.9259,1)" font-size="11.12" fill="#222" stroke="#222">450 <tspan>cm</tspan><tspan font-size="0.58em" dy="-0.45em">-1</tspan></text>
<line x1="282" y1="290.0" x2="307.4" y2="290.0" stroke="#1c1cac" stroke-width="1.8"/>
<text transform="translate(310.6,294.0) scale(0.9709,1)" font-size="12.05" fill="#1a1a1a" stroke="#1a1a1a">TiO<tspan font-size="0.62em" dy="2.6">2</tspan><tspan dy="-2.6">−4 h−180 °C−1000 mM−Ar−1000 °C</tspan></text>
<line x1="282" y1="304.4" x2="307.4" y2="304.4" stroke="#8414c4" stroke-width="1.8"/>
<text transform="translate(310.6,308.4) scale(0.9709,1)" font-size="12.05" fill="#1a1a1a" stroke="#1a1a1a">TiO<tspan font-size="0.62em" dy="2.6">2</tspan><tspan dy="-2.6">−4 h−180 °C−1000 mM−Ar−900 °C</tspan></text>
<line x1="282" y1="319.0" x2="307.4" y2="319.0" stroke="#ff862e" stroke-width="1.8"/>
<text transform="translate(310.6,323.0) scale(0.9709,1)" font-size="12.05" fill="#1a1a1a" stroke="#1a1a1a">TiO<tspan font-size="0.62em" dy="2.6">2</tspan><tspan dy="-2.6">−4 h−180 °C−1000 mM−Ar−800 °C</tspan></text>
<line x1="282" y1="333.0" x2="307.4" y2="333.0" stroke="#111111" stroke-width="1.8"/>
<text transform="translate(310.6,337.0) scale(0.9709,1)" font-size="12.05" fill="#1a1a1a" stroke="#1a1a1a">TiO<tspan font-size="0.62em" dy="2.6">2</tspan><tspan dy="-2.6">−4 h−180 °C−1000 mM</tspan></text>
<text x="281.4" y="287.0" font-size="11.4" font-weight="bold" fill="#111" stroke="#111">[D]</text>
<text transform="translate(508.4,360.4) rotate(-90) scale(0.9259,1)" font-size="11.12" fill="#222" stroke="#222">950 <tspan>cm</tspan><tspan font-size="0.58em" dy="-0.45em">-1</tspan></text>
<text transform="translate(519.5,366.4) rotate(-90) scale(0.9259,1)" font-size="11.12" fill="#ff2020" stroke="#ff2020">920 <tspan>cm</tspan><tspan font-size="0.58em" dy="-0.45em">-1</tspan></text>
</svg></body></html>
